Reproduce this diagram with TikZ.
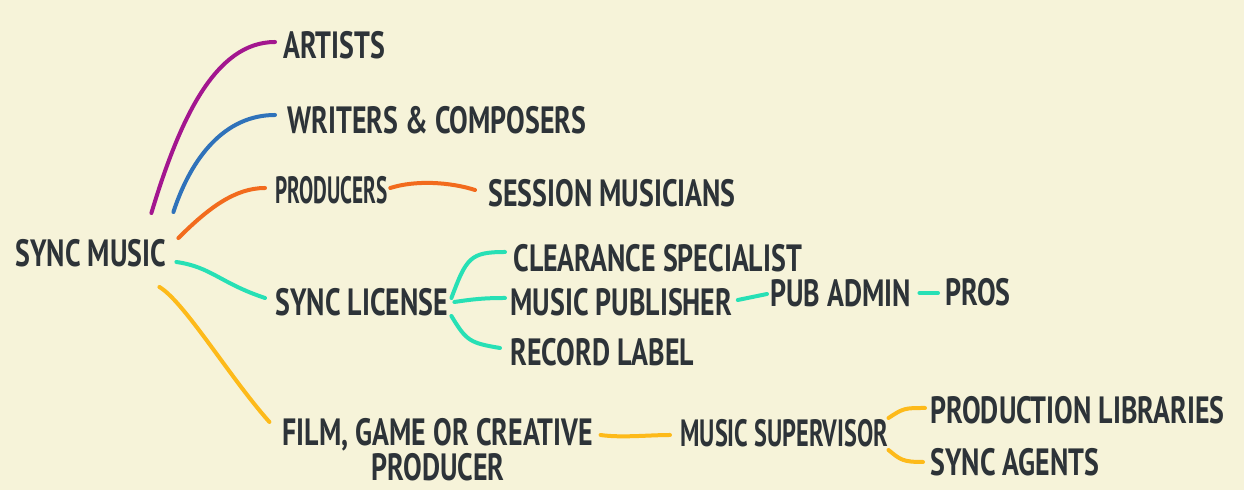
\documentclass[tikz,border=0pt]{standalone}
\usepackage{fontspec}
\setmainfont[FakeStretch=0.735]{PT Sans}
\usetikzlibrary{positioning}
\definecolor{paper}{HTML}{F6F3D9}
\definecolor{ink}{HTML}{2D3338}
\definecolor{plum}{HTML}{A3168F}
\definecolor{sky}{HTML}{2F72BA}
\definecolor{tang}{HTML}{F26B1D}
\definecolor{mint}{HTML}{27E0B5}
\definecolor{gold}{HTML}{FDBA1A}
\begin{document}
\begin{tikzpicture}[x=0.5pt,y=-0.5pt]
		\tikzstyle{every node}+=[inner sep=0pt]
		\tikzstyle{word}=[anchor=west, text=ink, text depth=0pt, font=\fontsize{19}{16}\selectfont\bfseries]
		\tikzstyle{branch}=[line width=2pt, line cap=round]
		\fill [paper] (0,0) rectangle (1244,490);
		% topics
		\node [word] (music) at (15,253) {SYNC MUSIC};
		\node [word] (artists) at (283,45) {ARTISTS};
		\node [word] (writers) at (287,120) {WRITERS \& COMPOSERS};
		\node [word] (producers) at (275,190) {\scalebox{0.76}[1]{PRODUCERS}};
		\node [word] (session) at (488,193) {SESSION MUSICIANS};
		\node [word] (license) at (275,302) {SYNC LICENSE};
		\node [word] (clearance) at (513,258) {CLEARANCE SPECIALIST};
		\node [word] (publisher) at (510,302) {MUSIC PUBLISHER};
		\node [word] (pubadmin) at (770,293) {PUB ADMIN};
		\node [word] (pros) at (945,292) {PROS};
		\node [word] (record) at (510,352) {RECORD LABEL};
		\node [word, anchor=north, align=center] (film) at (438,418) {FILM, GAME OR CREATIVE\\PRODUCER};
		\node [word] (supervisor) at (680,433) {\scalebox{0.87}[1]{MUSIC SUPERVISOR}};
		\node [word] (libraries) at (930,410) {PRODUCTION LIBRARIES};
		\node [word] (agents) at (930,462) {SYNC AGENTS};
		% branches
		\draw [branch, plum] ([shift={(-15,-26)}]music.north east) .. controls +(28,-93) and +(-60,0) .. ([shift={(-8,-3)}]artists.west);
		\draw [branch, sky] ([shift={(7,-27)}]music.north east) .. controls +(18,-55) and +(-50,0) .. ([shift={(-12,-5)}]writers.west);
		\draw [branch, tang] ([shift={(12,-1)}]music.north east) .. controls +(30,-30) and +(-30,0) .. ([shift={(-10,-2)}]producers.west);
		\draw [branch, tang] ([shift={(2,-2)}]producers.east) .. controls +(25,-8) and +(-25,-8) .. ([shift={(-13,-3)}]session.west);
		\draw [branch, mint] ([shift={(10,9)}]music.east) .. controls +(35,5) and +(-45,-15) .. ([shift={(-10,-4)}]license.west);
		\draw [branch, mint] ([shift={(3,-4)}]license.east) .. controls +(15,-40) and +(-35,0) .. ([shift={(-8,-6)}]clearance.west);
		\draw [branch, mint] ([shift={(6,0)}]license.east) .. controls +(20,-3) and +(-20,0) .. ([shift={(-5,-4)}]publisher.west);
		\draw [branch, mint] ([shift={(3,14)}]license.east) .. controls +(15,25) and +(-30,-5) .. ([shift={(-10,-4)}]record.west);
		\draw [branch, mint] ([shift={(5,-2)}]publisher.east) -- ([shift={(-3,1)}]pubadmin.west);
		\draw [branch, mint] ([shift={(8,0)}]pubadmin.east) -- ([shift={(-7,1)}]pros.west);
		\draw [branch, gold] ([shift={(-7,20)}]music.south east) .. controls +(25,15) and +(-40,-45) .. ([shift={(-13,4)}]film.north west);
		\draw [branch, gold] ([shift={(7,17)}]film.north east) .. controls +(20,3) and +(-20,0) .. ([shift={(-10,2)}]supervisor.west);
		\draw [branch, gold] ([shift={(0,-15)}]supervisor.east) .. controls +(15,-10) and +(-20,0) .. ([shift={(-5,-2)}]libraries.west);
		\draw [branch, gold] ([shift={(0,17)}]supervisor.east) .. controls +(12,10) and +(-20,0) .. ([shift={(-7,0)}]agents.west);
\end{tikzpicture}
\end{document}
